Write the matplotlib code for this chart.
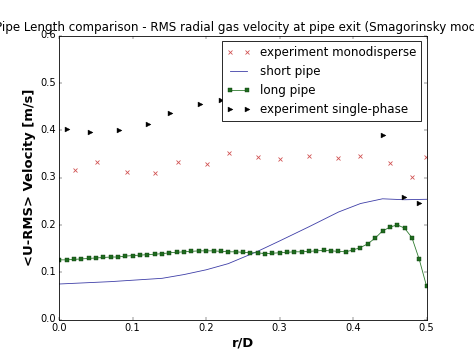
import numpy as np
import matplotlib
matplotlib.use('Agg')
import matplotlib.pyplot as plt

plt.style.use('classic')

# experiment, monodisperse
r_mono = [0.022, 0.052, 0.092, 0.131, 0.161, 0.201, 0.231, 0.271, 0.301, 0.340, 0.380,
          0.410, 0.450, 0.480, 0.499]
u_mono = [0.315, 0.333, 0.311, 0.310, 0.332, 0.328, 0.351, 0.344, 0.340, 0.346, 0.342,
          0.346, 0.330, 0.301, 0.344]

# short pipe
r_short = [0.0, 0.07, 0.14, 0.17, 0.20, 0.23, 0.25, 0.27, 0.30, 0.34, 0.38, 0.41, 0.44,
           0.47, 0.50]
u_short = [0.075, 0.080, 0.087, 0.095, 0.105, 0.118, 0.131, 0.144, 0.166, 0.196, 0.227,
           0.245, 0.255, 0.253, 0.254]

# long pipe
r_long = [0.00, 0.01, 0.02, 0.03, 0.04, 0.05, 0.06, 0.07, 0.08, 0.09,
          0.10, 0.11, 0.12, 0.13, 0.14, 0.15, 0.16, 0.17, 0.18, 0.19,
          0.20, 0.21, 0.22, 0.23, 0.24, 0.25, 0.26, 0.27, 0.28, 0.29,
          0.30, 0.31, 0.32, 0.33, 0.34, 0.35, 0.36, 0.37, 0.38, 0.39,
          0.40, 0.41, 0.42, 0.43, 0.44, 0.45, 0.46, 0.47, 0.48, 0.49, 0.50]
u_long = [0.126, 0.126, 0.127, 0.128, 0.129, 0.130, 0.131, 0.132, 0.132, 0.134,
          0.135, 0.136, 0.137, 0.138, 0.139, 0.141, 0.142, 0.143, 0.144, 0.145,
          0.145, 0.145, 0.144, 0.143, 0.143, 0.142, 0.141, 0.141, 0.139, 0.140,
          0.141, 0.142, 0.143, 0.143, 0.144, 0.145, 0.146, 0.145, 0.144, 0.143,
          0.147, 0.152, 0.160, 0.172, 0.187, 0.195, 0.200, 0.193, 0.173, 0.127, 0.070]

# experiment, single-phase
r_single = [0.011, 0.042, 0.081, 0.121, 0.151, 0.191, 0.220, 0.440, 0.469, 0.490]
u_single = [0.403, 0.396, 0.400, 0.413, 0.436, 0.455, 0.463, 0.389, 0.259, 0.247]

fig = plt.figure(figsize=(8, 355 / 59.25), dpi=59.25, facecolor='white')
ax = fig.add_subplot(111)

ax.plot(r_mono, u_mono, 'x', color='#d05050', markersize=6, markeredgewidth=1,
        label='experiment monodisperse')
ax.plot(r_short, u_short, '-', color='#3b3ba6', linewidth=1, label='short pipe')
ax.plot(r_long, u_long, 's-', color='#2d7a2d', markerfacecolor='#1e6b1e',
        markeredgecolor='#0d3d0d', markersize=6, linewidth=1, label='long pipe')
ax.plot(r_single, u_single, '>', color='k', markersize=6, label='experiment single-phase')

ax.set_xlim(0, 0.5)
ax.set_ylim(0, 0.6)
ax.set_xticks([0.0, 0.1, 0.2, 0.3, 0.4, 0.5])
ax.set_yticks([0.0, 0.1, 0.2, 0.3, 0.4, 0.5, 0.6])

ax.set_title('Pipe Length comparison - RMS radial gas velocity at pipe exit (Smagorinsky model)',
             fontsize=14.4)
ax.set_xlabel('r/D', fontsize=16, fontweight='bold')
ax.set_ylabel('<U-RMS> Velocity [m/s]', fontsize=16, fontweight='bold')

ax.legend(loc='upper right', numpoints=2, fontsize=14.4)

fig.savefig('out.png', dpi=59.25, facecolor='white')
